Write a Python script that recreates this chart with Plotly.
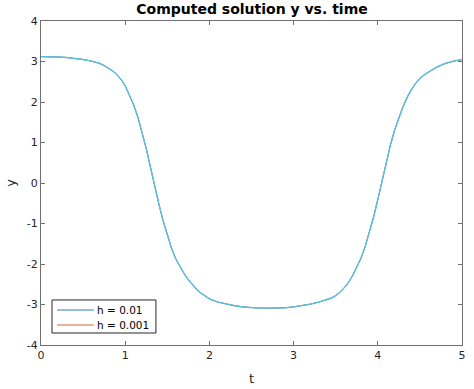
import plotly.graph_objects as go

t = [0.0, 0.1, 0.2, 0.3, 0.4, 0.5, 0.6, 0.7, 0.75, 0.8, 0.85, 0.9, 0.95,
     1.0, 1.05, 1.1, 1.15, 1.2, 1.25, 1.3, 1.35, 1.4, 1.45, 1.5, 1.55,
     1.6, 1.65, 1.7, 1.75, 1.8, 1.85, 1.9, 1.95, 2.0, 2.1, 2.2, 2.3,
     2.4, 2.5, 2.6, 2.7, 2.8, 2.9, 3.0, 3.1, 3.2, 3.3, 3.4, 3.45, 3.5,
     3.55, 3.6, 3.65, 3.7, 3.75, 3.8, 3.85, 3.9, 3.95, 4.0, 4.05, 4.1,
     4.15, 4.2, 4.25, 4.3, 4.35, 4.4, 4.45, 4.5, 4.55, 4.6, 4.65, 4.7,
     4.8, 4.9, 5.0]
y_h01 = [3.12, 3.12, 3.11, 3.10, 3.08, 3.05, 3.01, 2.95, 2.90, 2.84, 2.77, 2.68, 2.56,
         2.40, 2.18, 1.93, 1.63, 1.27, 0.85, 0.39, -0.08, -0.52, -0.93, -1.30, -1.61,
         -1.87, -2.07, -2.24, -2.39, -2.52, -2.63, -2.72, -2.80, -2.86, -2.94, -2.99, -3.03,
         -3.06, -3.08, -3.09, -3.09, -3.09, -3.08, -3.06, -3.03, -2.99, -2.94, -2.88, -2.84, -2.78,
         -2.70, -2.59, -2.46, -2.29, -2.09, -1.86, -1.57, -1.23, -0.84, -0.41, 0.05, 0.51,
         0.94, 1.31, 1.62, 1.89, 2.12, 2.31, 2.46, 2.58, 2.67, 2.74, 2.80, 2.86,
         2.95, 3.01, 3.05]
y_h001 = [3.12, 3.12, 3.11, 3.10, 3.08, 3.05, 3.01, 2.95, 2.90, 2.84, 2.77, 2.68, 2.56,
          2.40, 2.18, 1.93, 1.63, 1.27, 0.85, 0.39, -0.08, -0.52, -0.93, -1.30, -1.61,
          -1.87, -2.07, -2.24, -2.39, -2.52, -2.63, -2.72, -2.80, -2.86, -2.94, -2.99, -3.03,
          -3.06, -3.08, -3.09, -3.09, -3.09, -3.08, -3.06, -3.03, -2.99, -2.94, -2.88, -2.84, -2.78,
          -2.70, -2.59, -2.46, -2.29, -2.09, -1.86, -1.57, -1.23, -0.84, -0.41, 0.05, 0.51,
          0.94, 1.31, 1.62, 1.89, 2.12, 2.31, 2.46, 2.58, 2.67, 2.74, 2.80, 2.86,
          2.95, 3.01, 3.05]

series_names = ["h = 0.01", "h = 0.001"]
series_colors = ["#2F7FC1", "#D9683A"]
overlay_color = "#5BBFE0"

x_ticks = [0, 1, 2, 3, 4, 5]
y_ticks = [-4, -3, -2, -1, 0, 1, 2, 3, 4]

fig = go.Figure()
for name, ys, col in zip(series_names, [y_h01, y_h001], series_colors):
    fig.add_trace(go.Scatter(x=t, y=ys, mode="lines", name=name, showlegend=False,
                             line=dict(color=col, width=0.8)))
fig.add_trace(go.Scatter(x=t, y=y_h001, mode="lines", showlegend=False,
                         line=dict(color=overlay_color, width=1.4)))

axis_common = dict(showgrid=False, zeroline=False, showline=True, linecolor="#707070",
                   linewidth=1, mirror="ticks", ticks="inside", ticklen=4,
                   tickcolor="#707070", tickfont=dict(size=11, color="#262626"))

# manual legend (box + sample lines + labels) in paper coordinates
shapes = [dict(type="rect", xref="paper", yref="paper", x0=0.0261, x1=0.273,
               y0=0.037, y1=0.139, line=dict(color="#262626", width=1),
               fillcolor="white", layer="above")]
annotations = []
row_y = [0.108, 0.0617]
for name, col, yy in zip(series_names, series_colors, row_y):
    shapes.append(dict(type="line", xref="paper", yref="paper", x0=0.038, x1=0.1255,
                       y0=yy, y1=yy, line=dict(color=col, width=1.2), layer="above"))
    annotations.append(dict(text=name, xref="paper", yref="paper", x=0.131, y=yy,
                            xanchor="left", yanchor="middle", showarrow=False,
                            borderpad=0, font=dict(size=10.5, color="#000000")))

fig.update_layout(
    width=474, height=389,
    margin=dict(l=41, r=12, t=21, b=44, autoexpand=False),
    paper_bgcolor="white", plot_bgcolor="white",
    font=dict(family="DejaVu Sans", color="#262626", size=11),
    title=dict(text="<b>Computed solution y vs. time</b>", x=252 / 474, xanchor="center",
               y=0.99, yanchor="top", font=dict(size=14, color="#000000")),
    xaxis=dict(range=[0, 5], tickvals=x_ticks, ticktext=[str(v) for v in x_ticks],
               title=dict(text="t", font=dict(size=13), standoff=12), **axis_common),
    yaxis=dict(range=[-4, 4], tickvals=y_ticks, ticktext=[str(v) for v in y_ticks],
               title=dict(text="y", font=dict(size=13), standoff=8), **axis_common),
    shapes=shapes,
    annotations=annotations,
    showlegend=False,
)

fig.write_html("out.html")
